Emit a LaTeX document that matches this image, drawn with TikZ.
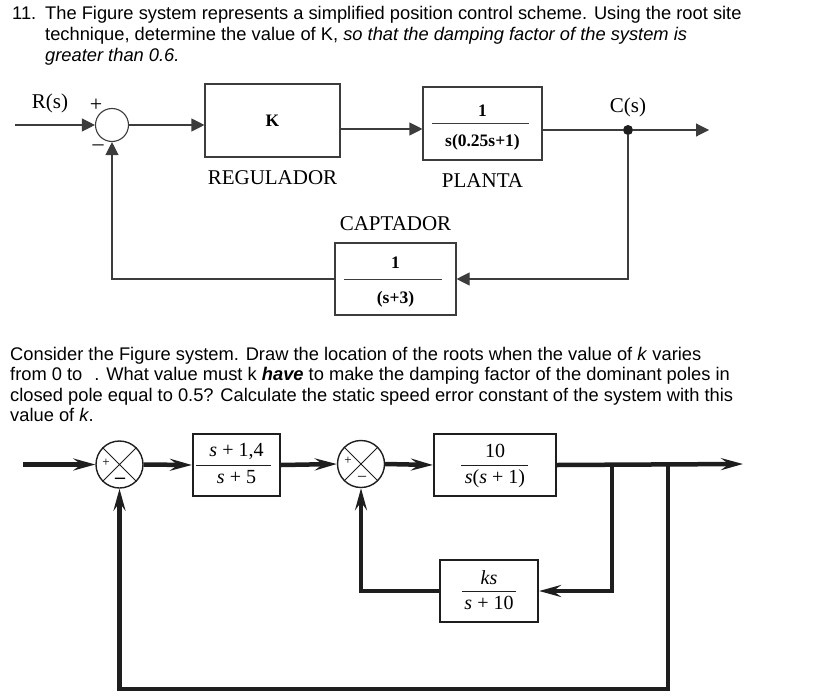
\documentclass[tikz,border=0pt]{standalone}
\usepackage{fontspec}
\setmainfont{Liberation Serif}
\newfontfamily\arialfont{Liberation Sans}
\usepackage{xcolor}
\definecolor{ink}{HTML}{1E1E1E}
\definecolor{wiregray}{HTML}{3C3C3C}
\usepackage{tikz}
\usetikzlibrary{arrows.meta, positioning}

\begin{document}
\begin{tikzpicture}[
        x=1pt, y=-1pt,
        every node/.style={inner sep=0pt},
        txt/.style={font=\arialfont\fontsize{18.3}{20.6}\selectfont, anchor=base west, align=left},
        lbl/.style={font=\fontsize{21}{23}\selectfont},
        blk/.style={draw=wiregray, line width=1.1pt, rectangle, font=\bfseries\fontsize{17.5}{19}\selectfont},
        blktxt/.style={font=\bfseries\fontsize{17.5}{19}\selectfont, anchor=base},
        sumnode/.style={draw=wiregray, line width=1.1pt, circle, minimum size=33pt},
        sign/.style={font=\fontsize{22}{22}\selectfont},
        wire/.style={draw=wiregray, line width=1.1pt, -{Triangle[length=13pt,width=13pt]}},
        fline/.style={draw=wiregray, line width=0.9pt},
        hblk/.style={draw=ink, line width=2.2pt, rectangle},
        hsum/.style={draw=ink, line width=1.4pt, circle, minimum size=47pt},
        hwire/.style={draw=ink, line width=4.5pt, -{Stealth[length=22pt,width=12pt,inset=8pt]}},
        hfline/.style={draw=ink, line width=1pt},
        htxt/.style={font=\fontsize{20}{22}\selectfont, anchor=base}
    ]
        \useasboundingbox (0,0) rectangle (826,698);

        % Question 11 (base anchor sits on the last line)
        \node[txt] (qnum) at (12,20) {11.};
        \node[txt] (qone) at (45,61.2) {The Figure system represents a simplified position control scheme. Using the root site\\technique, determine the value of K, \textit{so that the damping factor of the system is}\\\textit{greater than 0.6.}};

        % Loop 1: regulator and plant
        \node[lbl] (rlab) at (50,103) {R(s)};
        \node[sumnode] (sumA) at (112,125) {};
        \node[sign] (plusA) at (96,105) {+};
        \node[sign] (minusA) at (98,148) {--};
        \coordinate (rin) at (15,125);
        \draw[wire] (rin) -- (sumA.west);

        \node[blk, minimum width=135, minimum height=73] (kblk) at (272.5,120.5) {K};
        \node[lbl, below=13pt of kblk] (reglab) {REGULADOR};
        \draw[wire] (sumA.east) -- (sumA.east -| kblk.west);

        \node[blk, minimum width=119, minimum height=73] (plant) at (482.5,123.5) {};
        \draw[fline] ([xshift=10]plant.west) -- ([xshift=-14]plant.east);
        \node[blktxt] (plantnum) at ([yshift=7]plant.center) {1};
        \node[blktxt] (plantden) at ([yshift=-23]plant.center) {s(0.25s+1)};
        \node[lbl, below=13pt of plant] (plantlab) {PLANTA};
        \coordinate (pin) at ([yshift=-5.5]plant.west);
        \draw[wire] (pin -| kblk.east) -- (pin);

        % Output and sensor feedback
        \node[circle, fill=ink, minimum size=10pt] (cdot) at (628,130) {};
        \node[lbl, above=8pt of cdot] (clab) {C(s)};
        \coordinate (cout) at (709,130);
        \draw[draw=wiregray, line width=1.1pt] (plant.east |- cdot) -- (cdot);
        \draw[wire] (cdot) -- (cout);

        \node[blk, minimum width=121, minimum height=72] (capt) at (395.5,279) {};
        \draw[fline] ([xshift=10]capt.west) -- ([xshift=-15]capt.east);
        \node[blktxt] (captnum) at ([yshift=11]capt.center) {1};
        \node[blktxt] (captden) at ([yshift=-24]capt.center) {(s+3)};
        \node[lbl, above=12pt of capt] (captlab) {CAPTADOR};
        \draw[wire] (cdot) |- (capt.east);
        \draw[wire] (capt.west) -| (sumA.south);

        % Second question
        \node[txt] (qtwo) at (10,421.8) {Consider the Figure system. Draw the location of the roots when the value of \textit{k} varies\\from 0 to\hspace{12pt}. What value must k \textbf{\textit{have}} to make the damping factor of the dominant poles in\\closed pole equal to 0.5? Calculate the static speed error constant of the system with this\\value of \textit{k}.};

        % Loop 2: lead block, inner rate feedback
        \node[hsum] (sumC) at (119.5,464.5) {};
        \draw[draw=ink, line width=0.8pt] (sumC.north west) -- (sumC.south east) (sumC.north east) -- (sumC.south west);
        \node[sign, font=\fontsize{13}{13}\selectfont] (plusC) at (106,463) {+};
        \node[sign, font=\bfseries\fontsize{20}{20}\selectfont] (minusC) at (120,481) {--};
        \coordinate (cin) at (23,464.5);
        \draw[hwire] (cin) -- (sumC.west);

        \node[hblk, minimum width=87, minimum height=62] (lead) at (236.5,465) {};
        \draw[hfline] ([xshift=4]lead.west) -- ([xshift=-10]lead.east);
        \node[htxt] (leadnum) at ([yshift=9]lead.center) {\textit{s} + 1,4};
        \node[htxt] (leadden) at ([yshift=-18]lead.center) {\textit{s} + 5};
        \draw[hwire] (sumC.east) -- (lead.west);

        \node[hsum] (sumD) at (361,464) {};
        \draw[draw=ink, line width=0.8pt] (sumD.north west) -- (sumD.south east) (sumD.north east) -- (sumD.south west);
        \node[sign, font=\fontsize{13}{13}\selectfont] (plusD) at (348,461) {+};
        \node[sign, font=\fontsize{16}{16}\selectfont] (minusD) at (362,478) {--};
        \draw[hwire] (lead.east) -- (sumD.west);

        \node[hblk, minimum width=122, minimum height=62] (gplant) at (495,465) {};
        \draw[hfline] ([xshift=-34]gplant.center) -- ([xshift=33]gplant.center);
        \node[htxt] (gnum) at ([yshift=8]gplant.center) {10};
        \node[htxt] (gden) at ([yshift=-18]gplant.center) {\textit{s}(\textit{s} + 1)};
        \draw[hwire] (sumD.east) -- (gplant.west);

        \coordinate (yout) at (743,464);
        \coordinate (tapA) at (612,464);
        \coordinate (tapB) at (668,464);
        \draw[hwire] (gplant.east) -- (yout);

        \node[hblk, minimum width=98, minimum height=62] (rate) at (489,591) {};
        \draw[hfline] ([xshift=-27]rate.center) -- ([xshift=27]rate.center);
        \node[htxt] (ratenum) at ([yshift=7]rate.center) {\textit{ks}};
        \node[htxt] (rateden) at ([yshift=-18]rate.center) {\textit{s} + 10};

        \draw[hwire] (tapA) |- (rate.east);
        \draw[hwire] (rate.west) -| (sumD.south);
        \draw[hwire] (tapB) -- ++(0,225) -| (sumC.south);

    \end{tikzpicture}
\end{document}
